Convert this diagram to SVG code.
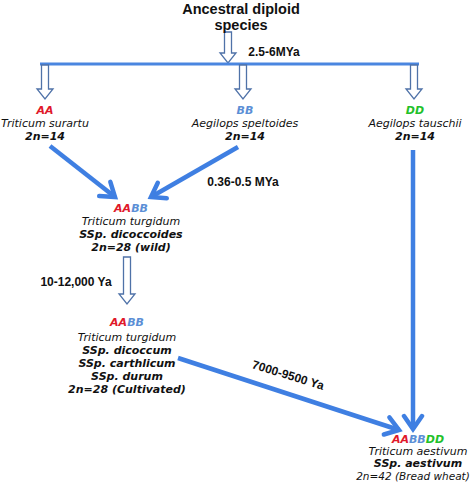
<svg xmlns="http://www.w3.org/2000/svg" width="474" height="484" viewBox="0 0 474 484">
<style>
text{font-family:"DejaVu Sans","Liberation Sans",Arial,sans-serif;text-anchor:middle;fill:#111}
.t{font-family:"Liberation Sans",Arial,sans-serif;font-size:14.5px;font-weight:bold}
.lb{font-family:"Liberation Sans",Arial,sans-serif;font-size:12px;font-weight:bold}
.sp{font-size:11px;font-style:italic}
.bi{font-size:11px;font-style:italic;font-weight:bold}
.g{font-size:11px;font-style:italic;font-weight:bold}
.r{fill:#e0182a}.b{fill:#5b8fd6}.d{fill:#22c12a}
.hol{fill:#fff;stroke:#4f72a8;stroke-width:1.3}
.ar{stroke:#3f7fe2;stroke-width:4.5;fill:none}
</style>
<defs>
<marker id="v" viewBox="0 0 24 24" refX="18" refY="12" markerWidth="24" markerHeight="24" markerUnits="userSpaceOnUse" orient="auto">
<path d="M5,3 L18,12 L5,21" fill="none" stroke="#3f7fe2" stroke-width="4.5" stroke-linecap="round" stroke-linejoin="miter"/>
</marker>
</defs>
<g id="connectors">
<path class="hol" d="M224.5,32 V53 H220 L228,63 L236,53 H231.5 V32 Z"/>
<line x1="40" y1="64" x2="419" y2="64" stroke="#4a86e0" stroke-width="3"/>
<path class="hol" d="M41.5,65 V89 H37 L45,99 L53,89 H48.5 V65 Z"/>
<path class="hol" d="M239.5,65 V89 H235 L243,99 L251,89 H246.5 V65 Z"/>
<path class="hol" d="M410.5,65 V89 H406 L414,99 L422,89 H417.5 V65 Z"/>
<path class="hol" d="M123.5,257 V294 H119 L127,304 L135,294 H130.5 V257 Z"/>
<line class="ar" x1="50" y1="146" x2="115" y2="197" marker-end="url(#v)"/>
<line class="ar" x1="238" y1="147" x2="151" y2="197" marker-end="url(#v)"/>
<line class="ar" x1="178" y1="358" x2="399" y2="430" marker-end="url(#v)"/>
<line class="ar" x1="413" y1="150" x2="413" y2="429" marker-end="url(#v)"/>
<text class="lb" x="274" y="56">2.5-6MYa</text>
<text class="lb" x="243" y="186">0.36-0.5 MYa</text>
<text class="lb" x="76" y="286">10-12,000 Ya</text>
<text class="lb" transform="translate(287,379) rotate(17)">7000-9500 Ya</text>
</g>
<g id="ancestor"><text class="t" x="241" y="14">Ancestral diploid</text><text class="t" x="241" y="30">species</text></g>
<g id="aa">
<text class="g" x="45" y="114"><tspan class="r">AA</tspan></text>
<text class="sp" x="45" y="127">Triticum surartu</text>
<text class="bi" x="45" y="140">2n=14</text>
</g>
<g id="bb">
<text class="g" x="245" y="114"><tspan class="b">BB</tspan></text>
<text class="sp" x="245" y="127">Aegilops speltoides</text>
<text class="bi" x="245" y="140">2n=14</text>
</g>
<g id="dd">
<text class="g" x="415" y="114"><tspan class="d">DD</tspan></text>
<text class="sp" x="415" y="127">Aegilops tauschii</text>
<text class="bi" x="415" y="140">2n=14</text>
</g>
<g id="aabb-wild">
<text class="g" x="131" y="212"><tspan class="r">AA</tspan><tspan class="b">BB</tspan></text>
<text class="sp" x="131" y="225">Triticum turgidum</text>
<text class="bi" x="131" y="238">SSp. dicoccoides</text>
<text class="bi" x="131" y="251">2n=28 (wild)</text>
</g>
<g id="aabb-cult">
<text class="g" x="127" y="326"><tspan class="r">AA</tspan><tspan class="b">BB</tspan></text>
<text class="sp" x="127" y="341">Triticum turgidum</text>
<text class="bi" x="127" y="354">SSp. dicoccum</text>
<text class="bi" x="127" y="367">SSp. carthlicum</text>
<text class="bi" x="127" y="380">SSp. durum</text>
<text class="bi" x="127" y="393">2n=28 (Cultivated)</text>
</g>
<g id="aabbdd">
<text class="g" x="418" y="443"><tspan class="r">AA</tspan><tspan class="b">BB</tspan><tspan class="d">DD</tspan></text>
<text class="sp" x="418" y="455">Triticum aestivum</text>
<text class="bi" x="418" y="467">SSp. aestivum</text>
<text class="sp" x="413" y="480" style="font-size:10.5px">2n=42 (Bread wheat)</text>
</g>
</svg>
